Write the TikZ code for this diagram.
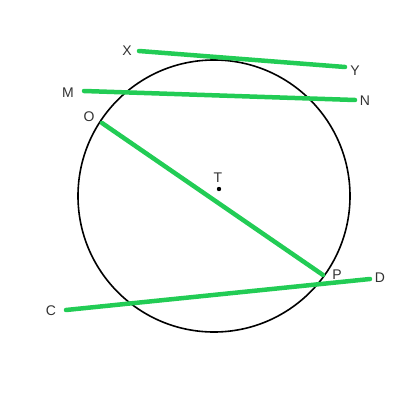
\documentclass[tikz,border=0pt]{standalone}
\usepackage{fontspec}
\setmainfont{Liberation Sans}
\definecolor{lgreen}{RGB}{34,204,85}
\definecolor{lbl}{RGB}{50,50,50}
\begin{document}
\begin{tikzpicture}[x=1pt,y=-1pt,
  chord/.style={lgreen,line width=4.5pt,line cap=round},
  lab/.style={text=lbl,font=\fontsize{14}{16}\selectfont,inner sep=0pt}]
\useasboundingbox (0,0) rectangle (414,414);
\coordinate (T) at (214,196);
\coordinate (X) at (139,51);
\coordinate (Y) at (345,67);
\coordinate (M) at (84,91);
\coordinate (N) at (355,100);
\coordinate (O) at (102,123);
\coordinate (P) at (323,275);
\coordinate (C) at (66,310);
\coordinate (D) at (370,279);
\draw[line width=1.6pt] (T) circle (136);
\draw[chord] (X) -- (Y);
\draw[chord] (M) -- (N);
\draw[chord] (O) -- (P);
\draw[chord] (C) -- (D);
\fill (219,189) circle (2.2pt);
\node[lab] (lX) at (127,51) {X};
\node[lab] (lY) at (355,71) {Y};
\node[lab] (lM) at (68,93) {M};
\node[lab] (lN) at (365,101) {N};
\node[lab] (lO) at (89,117) {O};
\node[lab] (lT) at (218,178) {T};
\node[lab] (lP) at (337,275) {P};
\node[lab] (lC) at (51,311) {C};
\node[lab] (lD) at (380,278) {D};
\end{tikzpicture}
\end{document}
